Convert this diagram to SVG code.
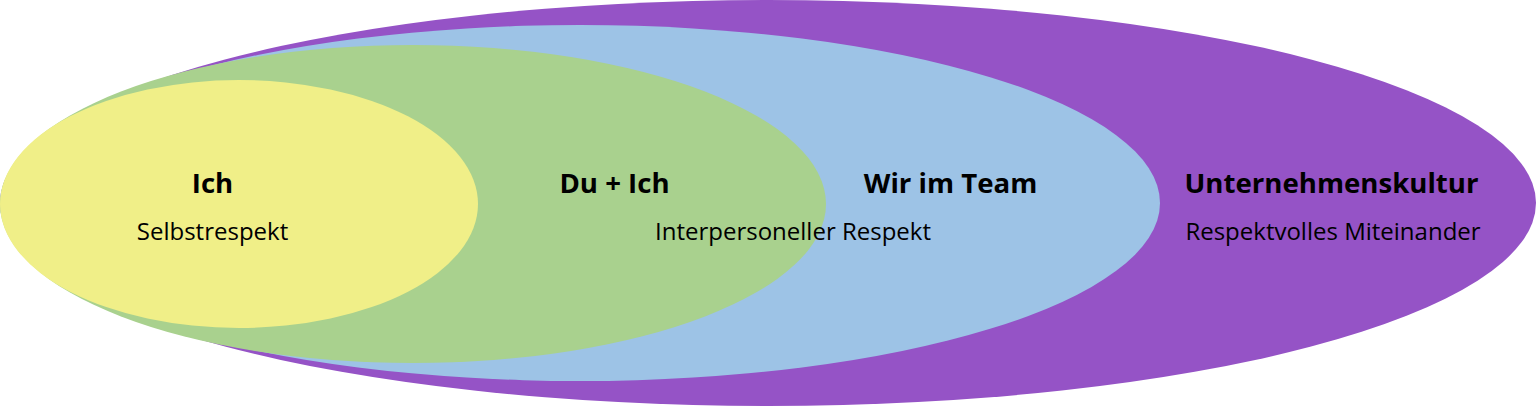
<svg xmlns="http://www.w3.org/2000/svg" width="1536" height="406" viewBox="0 0 1536 406">
<style>
.t{font-family:"Open Sans","Noto Sans","Liberation Sans",sans-serif;fill:#000;text-anchor:middle}
.h{font-size:27.6px;font-weight:bold}
.s{font-size:24px}
</style>
<rect width="1536" height="406" fill="#fff"/>
<g id="unternehmenskultur">
<ellipse cx="768" cy="203" rx="768" ry="203" fill="#9553C6"/>
</g>
<g id="wir-im-team">
<ellipse cx="580" cy="203" rx="580" ry="178" fill="#9DC3E6"/>
</g>
<g id="du-ich">
<ellipse cx="413" cy="204" rx="413" ry="159" fill="#A9D18E"/>
</g>
<g id="ich">
<ellipse cx="239" cy="204" rx="239" ry="124" fill="#F0EF88"/>
</g>
<g id="labels">
<text class="t h" x="212.5" y="193">Ich</text>
<text class="t s" x="212.5" y="240">Selbstrespekt</text>
<text class="t h" x="614.5" y="193">Du + Ich</text>
<text class="t h" x="950.5" y="193">Wir im Team</text>
<text class="t s" x="793" y="240">Interpersoneller Respekt</text>
<text class="t h" x="1331.5" y="193">Unternehmenskultur</text>
<text class="t s" x="1333" y="240">Respektvolles Miteinander</text>
</g>
<g id="connectors"></g>
</svg>
